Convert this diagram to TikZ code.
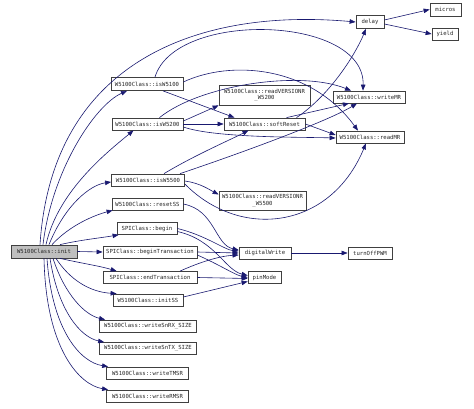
\documentclass[tikz,border=0pt]{standalone}
\usepackage{fontspec}
\newfontfamily\dmono{DejaVu Sans Mono}
\usetikzlibrary{arrows.meta}
\definecolor{edgecol}{HTML}{191970}
\definecolor{bordcol}{HTML}{404040}
\tikzset{
  fn/.style={draw=bordcol, line width=0.75pt, fill=white, inner sep=0pt,
    minimum height=12pt, align=center,
    font=\dmono\fontsize{5.6}{6.6}\selectfont, text=black!85},
  rootfn/.style={fn, fill=black!25},
  e/.style={draw=edgecol, line width=0.6pt, -{Triangle[length=6pt,width=4.5pt]}},
}
\begin{document}
\begin{tikzpicture}[x=1pt,y=-1pt]
\useasboundingbox[fill=white] (0,0) rectangle (474,409);
% nodes
\node[rootfn, minimum width=66pt, minimum height=13pt] (init) at (44,251.5) {W5100Class::init};
\node[fn, minimum width=72pt, minimum height=13pt] (isw5100) at (147,84) {W5100Class::isW5100};
\node[fn, minimum width=71pt] (isw5200) at (147.5,124) {W5100Class::isW5200};
\node[fn, minimum width=73pt] (isw5500) at (148,180) {W5100Class::isW5500};
\node[fn, minimum width=71pt] (resetss) at (147.5,204) {W5100Class::resetSS};
\node[fn, minimum width=60pt] (spibegin) at (147,228.5) {SPIClass::begin};
\node[fn, minimum width=94pt] (begintr) at (150,252) {SPIClass::beginTransaction};
\node[fn, minimum width=94pt] (endtr) at (150,277.5) {SPIClass::endTransaction};
\node[fn, minimum width=70pt] (initss) at (148,300) {W5100Class::initSS};
\node[fn, minimum width=97pt] (snrx) at (148,326) {W5100Class::writeSnRX\_SIZE};
\node[fn, minimum width=97pt] (sntx) at (148,348.5) {W5100Class::writeSnTX\_SIZE};
\node[fn, minimum width=82pt] (tmsr) at (147.5,373) {W5100Class::writeTMSR};
\node[fn, minimum width=82pt] (rmsr) at (147.5,396) {W5100Class::writeRMSR};
\node[fn, minimum width=91pt, minimum height=20pt] (rv5200) at (264.5,95) {W5100Class::readVERSIONR\\\_W5200};
\node[fn, minimum width=81pt] (softreset) at (264.5,124) {W5100Class::softReset};
\node[fn, minimum width=87pt, minimum height=19pt] (rv5500) at (262.5,200.5) {W5100Class::readVERSIONR\\\_W5500};
\node[fn, minimum width=52pt] (dwrite) at (265,253) {digitalWrite};
\node[fn, minimum width=33pt] (pinmode) at (264.5,277.5) {pinMode};
\node[fn, minimum width=72pt] (writemr) at (369,97) {W5100Class::writeMR};
\node[fn, minimum width=68pt] (readmr) at (370,137) {W5100Class::readMR};
\node[fn, minimum width=28pt, minimum height=13pt] (delay) at (370,22) {delay};
\node[fn, minimum width=31pt, minimum height=13pt] (micros) at (445.5,9.5) {micros};
\node[fn, minimum width=26pt] (yield) at (445,34) {yield};
\node[fn, minimum width=44pt] (turnoff) at (370,253) {turnOffPWM};
% edges from init
\draw[e] ([xshift=-4pt]init.north) .. controls (52,60) and (200,8) .. (delay.west);
\draw[e] ([xshift=-1pt]init.north) .. controls (52,170) and (95,105) .. ([xshift=-20pt]isw5100.south);
\draw[e] ([xshift=2pt]init.north) .. controls (58,190) and (110,150) .. ([xshift=-14pt]isw5200.south);
\draw[e] ([xshift=5pt]init.north) .. controls (65,205) and (90,185) .. ([yshift=-2pt]isw5500.west);
\draw[e] ([xshift=8pt]init.north) .. controls (70,225) and (95,215) .. ([xshift=1pt]resetss.south west);
\draw[e] ([xshift=16pt]init.north) .. controls (80,240) and (100,238) .. ([xshift=2pt]spibegin.south west);
\draw[e] (init.east) -- (begintr.west);
\draw[e] ([xshift=16pt]init.south) .. controls (80,263) and (100,266) .. ([xshift=14pt]endtr.north west);
\draw[e] ([xshift=12pt]init.south) .. controls (70,280) and (90,292) .. ([xshift=4pt]initss.north west);
\draw[e] ([xshift=9pt]init.south) .. controls (65,295) and (85,315) .. ([xshift=6pt]snrx.north west);
\draw[e] ([xshift=6pt]init.south) .. controls (58,310) and (80,337) .. ([xshift=5pt]sntx.north west);
\draw[e] ([xshift=3pt]init.south) .. controls (52,330) and (80,362) .. ([xshift=2pt]tmsr.north west);
\draw[e] (init.south) .. controls (46,350) and (80,385) .. ([xshift=2pt]rmsr.north west);
% isW5100
\draw[e] ([xshift=8pt]isw5100.north) .. controls (175,10) and (365,15) .. ([xshift=-6pt]writemr.north);
\draw[e] ([yshift=2pt]isw5100.east) .. controls (230,60) and (310,65) .. ([xshift=-12pt]readmr.north);
\draw[e] ([xshift=16pt]isw5100.south) -- ([xshift=-30pt]softreset.north);
% isW5200
\draw[e] ([xshift=12pt]isw5200.north) .. controls (200,85) and (300,70) .. ([xshift=-18pt]writemr.north);
\draw[e] ([yshift=3pt]isw5200.east) -- (rv5200.south west);
\draw[e] (isw5200.east) -- (softreset.west);
\draw[e] ([yshift=-3pt]isw5200.east) .. controls (215,138) and (300,137) .. ([yshift=-1pt]readmr.west);
% softReset
\draw[e] ([xshift=22pt]softreset.north) -- ([xshift=-20pt]writemr.south);
\draw[e] (softreset.east) -- ([yshift=2pt]readmr.west);
\draw[e] ([xshift=32pt]softreset.north) .. controls (330,95) and (355,55) .. ([xshift=-4pt]delay.south);
% isW5500
\draw[e] ([xshift=16pt]isw5500.north) .. controls (195,155) and (230,140) .. ([xshift=-16pt]softreset.south);
\draw[e] ([xshift=32pt]isw5500.north) .. controls (250,150) and (330,120) .. ([xshift=-12pt]writemr.south);
\draw[e] ([yshift=-1pt]isw5500.east) .. controls (200,183) and (210,190) .. ([yshift=6pt]rv5500.west);
\draw[e] ([yshift=-4pt]isw5500.east) .. controls (240,240) and (330,230) .. ([xshift=-4pt]readmr.south);
% digitalWrite / pinMode callers
\draw[e] (resetss.east) .. controls (215,210) and (215,245) .. ([yshift=3pt]dwrite.west);
\draw[e] (spibegin.east) .. controls (205,235) and (225,250) .. ([yshift=2pt]dwrite.west);
\draw[e] ([yshift=-3pt]spibegin.east) .. controls (215,240) and (225,270) .. ([yshift=2pt]pinmode.west);
\draw[e] (begintr.east) -- (dwrite.west);
\draw[e] ([yshift=-3pt]begintr.east) .. controls (220,265) and (235,275) .. (pinmode.west);
\draw[e] ([xshift=30pt]endtr.north) .. controls (200,262) and (220,256) .. ([yshift=-2pt]dwrite.west);
\draw[e] (endtr.east) -- ([yshift=-1pt]pinmode.west);
\draw[e] ([yshift=3pt]initss.east) -- ([yshift=-4pt]pinmode.west);
% leaves
\draw[e] ([yshift=2pt]delay.east) -- (micros.west);
\draw[e] ([yshift=-2pt]delay.east) -- (yield.west);
\draw[e] (dwrite.east) -- (turnoff.west);
\end{tikzpicture}
\end{document}
